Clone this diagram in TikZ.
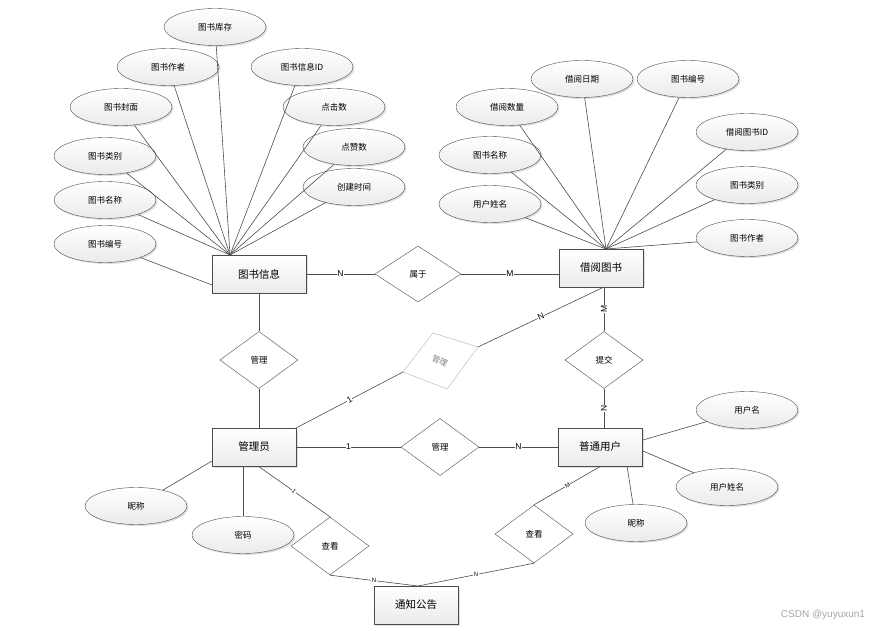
\documentclass[tikz,border=0pt]{standalone}
\usepackage{fontspec}
\setmainfont{Liberation Sans}
\newfontfamily\cjk{Noto Sans CJK SC}
\usetikzlibrary{shapes.geometric,shadows}
\begin{document}
\begin{tikzpicture}[x=1pt,y=-1pt,
  ell/.style={ellipse,draw=black!70,top color=white,bottom color=black!8,drop shadow={opacity=0.25,shadow xshift=1.5pt,shadow yshift=-1.5pt},minimum width=102pt,minimum height=37pt,inner sep=0pt,font=\cjk\fontsize{8.5}{9}\selectfont},
  ent/.style={rectangle,draw=black!70,top color=white,bottom color=black!8,drop shadow={opacity=0.25,shadow xshift=1.5pt,shadow yshift=-1.5pt},minimum width=84pt,minimum height=38pt,inner sep=0pt,font=\cjk\fontsize{10.5}{12}\selectfont},
  rel/.style={diamond,draw=black!70,fill=white,minimum width=78pt,minimum height=57pt,inner sep=0pt,font=\cjk\fontsize{8.5}{9}\selectfont},
  ln/.style={draw=black!70,line width=0.6pt},
  lab/.style={fill=white,inner sep=0.5pt,font=\fontsize{8.5}{10}\selectfont}]
\useasboundingbox (0,0) rectangle (892,631);
% left attributes
\node[ell] (a1) at (215,27) {图书库存};
\node[ell] (a2) at (168,67) {图书作者};
\node[ell] (a3) at (302,67) {图书信息ID};
\node[ell] (a4) at (121,107) {图书封面};
\node[ell] (a5) at (334,107) {点击数};
\node[ell] (a6) at (105,156) {图书类别};
\node[ell] (a7) at (354,147) {点赞数};
\node[ell] (a8) at (105,200) {图书名称};
\node[ell] (a9) at (354,187) {创建时间};
\node[ell] (a10) at (105,244) {图书编号};
\node[ent,minimum width=94pt] (bi) at (259,274) {图书信息};
\coordinate (hubL) at (230,255);
\coordinate (hubL2) at (212,285);
\foreach \i in {1,...,9} \draw[ln] (a\i) -- (hubL);
\draw[ln] (a10) -- (hubL2);
% right attributes
\node[ell] (b1) at (582,79) {借阅日期};
\node[ell] (b2) at (688,79) {图书编号};
\node[ell] (b3) at (507,107) {借阅数量};
\node[ell] (b4) at (747,132) {借阅图书ID};
\node[ell] (b5) at (490,155) {图书名称};
\node[ell] (b6) at (747,185) {图书类别};
\node[ell] (b7) at (490,204) {用户姓名};
\node[ell] (b8) at (747,238) {图书作者};
\node[ent] (jy) at (601,268) {借阅图书};
\coordinate (hubR) at (606,249);
\foreach \i in {1,...,8} \draw[ln] (b\i) -- (hubR);
% relations
\node[rel,minimum width=86pt,minimum height=56pt] (sy) at (418,274) {属于};
\draw[ln] (bi) -- node[lab]{N} (sy);
\draw[ln] (sy.east) -- node[lab]{M} (sy.east -| jy.west);
\node[ent] (gly) at (254,447) {管理员};
\node[ent] (pt) at (600,447) {普通用户};
\node[ent] (tz) at (416,605) {通知公告};
\node[rel] (gl1) at (259,360) {管理};
\draw[ln] (bi.south -| gl1) -- (gl1.north);
\draw[ln] (gl1.south) -- (gly.north -| gl1);
\node[rel] (gl2) at (440,447) {管理};
\draw[ln] (gly) -- node[lab]{1} (gl2);
\draw[ln] (gl2) -- node[lab]{N} (pt);
\node[rel] (tj) at (604,360) {提交};
\coordinate (jyb) at (604,287);
\coordinate (ptt) at (604,428);
\draw[ln] (jyb) -- node[lab,rotate=90]{M} (tj.north);
\draw[ln] (tj.south) -- node[lab,rotate=90]{N} (ptt);
% gray skewed diamond
\coordinate (gL) at (403,372);
\coordinate (gT) at (433,333);
\coordinate (gR) at (478,347);
\coordinate (gB) at (447,389);
\draw[black!30,fill=white] (gL) -- (gT) -- (gR) -- (gB) -- cycle;
\node[text=black!50,rotate=-25,inner sep=0pt,font=\cjk\fontsize{8}{9}\selectfont] (gt) at (440,361) {管理};
\coordinate (glyc) at (296,428);
\draw[ln] (glyc) -- node[lab,rotate=30]{1} (gL);
\draw[ln] (gR) -- node[lab,rotate=25]{N} (jyb);
% lower
\node[rel,minimum height=58pt] (ck1) at (330,546) {查看};
\node[rel,minimum height=58pt] (ck2) at (534,534) {查看};
\coordinate (glyb) at (258,466);
\coordinate (tzt) at (418,586);
\coordinate (ptb) at (601,466);
\draw[ln] (glyb) -- node[lab,rotate=-45,font=\fontsize{6}{7}\selectfont]{1} (ck1.north);
\draw[ln] (ck1.south) -- node[lab,font=\fontsize{6}{7}\selectfont]{N} (tzt);
\draw[ln] (ck2.south) -- node[lab,font=\fontsize{6}{7}\selectfont]{N} (tzt);
\draw[ln] (ptb) -- node[lab,rotate=30,font=\fontsize{6}{7}\selectfont]{M} (ck2.north);
% admin/user attributes
\node[ell] (c1) at (136,506) {昵称};
\node[ell] (c2) at (243,535) {密码};
\node[ell] (d1) at (747,410) {用户名};
\node[ell] (d2) at (727,487) {用户姓名};
\node[ell] (d3) at (636,523) {昵称};
\coordinate (gl1p) at (212,461);
\coordinate (gl2p) at (243,466);
\draw[ln] (gl1p) -- (c1);
\draw[ln] (gl2p) -- (c2);
\coordinate (p1) at (643,440);
\coordinate (p2) at (643,451);
\coordinate (p3) at (627,466);
\draw[ln] (p1) -- (d1);
\draw[ln] (p2) -- (d2);
\draw[ln] (p3) -- (d3);
\node[text=black!35,font=\fontsize{10}{12}\selectfont] (wm) at (823,615) {CSDN @yuyuxun1};
\end{tikzpicture}
\end{document}
